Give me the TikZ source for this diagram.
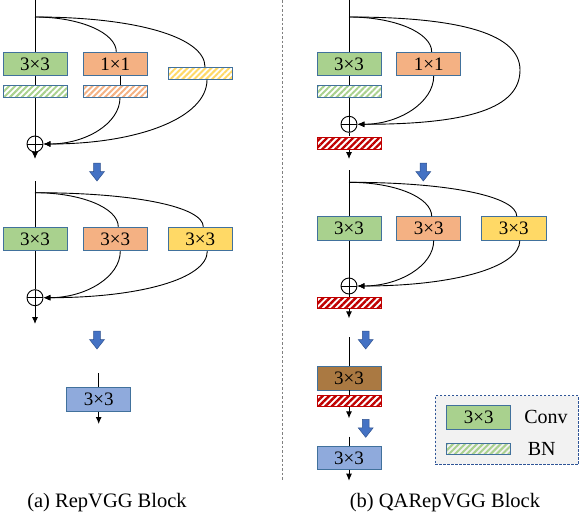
\documentclass[tikz,border=0pt]{standalone}
\usepackage{fontspec}
\setmainfont{Liberation Serif}
\usetikzlibrary{arrows.meta,patterns.meta}
\definecolor{cborder}{HTML}{41719C}
\definecolor{cgreen}{HTML}{A9D18E}
\definecolor{corange}{HTML}{F4B183}
\definecolor{cyellow}{HTML}{FFD966}
\definecolor{cblue}{HTML}{8FAADC}
\definecolor{cbrown}{HTML}{AA7942}
\definecolor{cred}{HTML}{C00000}
\definecolor{carrow}{HTML}{4472C4}
\definecolor{carrowb}{HTML}{2F528F}
\definecolor{clegfill}{HTML}{F2F2F2}
\definecolor{clegdraw}{HTML}{2F5597}
\begin{document}
\begin{tikzpicture}[x=1pt,y=-1pt,
  conv/.style={draw=cborder, line width=0.8pt, minimum width=64pt, minimum height=23.5pt, inner sep=0pt, font=\fontsize{19}{19}\selectfont},
  bnbox/.style={draw=cborder, line width=0.8pt, minimum width=64pt, minimum height=11.5pt, inner sep=0pt, pattern={Lines[angle=45,distance=4.2pt,line width=2pt]}},
  redbn/.style={bnbox, draw=cred, pattern={Lines[angle=45,distance=4.6pt,line width=2.4pt]}, pattern color=cred},
  plusnode/.style={circle, draw, line width=0.9pt, minimum size=16pt, inner sep=0pt,
    path picture={\draw[line width=0.9pt] (path picture bounding box.north) -- (path picture bounding box.south) (path picture bounding box.west) -- (path picture bounding box.east);}},
  ln/.style={line width=0.9pt},
  arr/.style={ln, -{Latex[length=7pt,width=6pt]}},
  barrow/.pic={\draw[fill=carrow, draw=carrowb, line width=0.5pt] (-3.3,0) -- (3.3,0) -- (3.3,8.5) -- (7.5,8.5) -- (0,18) -- (-7.5,8.5) -- (-3.3,8.5) -- cycle;},
  captext/.style={font=\fontsize{20.5}{20.5}\selectfont, inner sep=0pt},
  legtext/.style={font=\fontsize{20}{20}\selectfont, inner sep=0pt}
]
\fill[white] (0,0) rectangle (581,517);
\useasboundingbox (0,0) rectangle (581,517);

% separator
\coordinate (s1) at (282,0);
\coordinate (s2) at (282,480);
\draw[gray, line width=0.6pt, dash pattern=on 2.5pt off 2pt] (s1) -- (s2);

% ===== Left, row 1 =====
\coordinate (t1) at (35,0);
\coordinate (b1) at (35,17);
\node[conv, fill=cgreen] (g1) at (35,64) {3×3};
\node[bnbox, pattern color=cgreen] (gb1) at (35,91.5) {};
\node[conv, fill=corange] (o1) at (115.3,64) {1×1};
\node[bnbox, pattern color=corange] (ob1) at (115.3,91.5) {};
\node[bnbox, pattern color=cyellow, minimum height=12pt] (yb1) at (200.3,73.3) {};
\node[plusnode] (p1) at (35,144) {};
\coordinate (e1) at (35,159);
\draw[ln] (t1) -- (g1.north) (g1.south) -- (gb1.north) (gb1.south) -- (p1.north);
\draw[arr] (p1.south) -- (e1);
\draw[ln] ([xshift=4.7pt]o1.south) -- ([xshift=4.7pt]ob1.north);
\draw[ln] (b1) .. controls +(45,0) and +(0,-19) .. ([xshift=1pt]o1.north);
\draw[ln] (b1) .. controls +(100,0) and +(0,-30) .. ([xshift=4.7pt]yb1.north);
\draw[arr] ([xshift=4.7pt]ob1.south) .. controls +(0,26) and +(42,0) .. (p1.east);
\draw[arr] ([xshift=6.7pt]yb1.south) .. controls +(0,38) and +(95,0) .. (p1.east);
\pic at (97,163) {barrow};

% ===== Left, row 2 =====
\coordinate (t2) at (35,181);
\coordinate (b2) at (35,192.7);
\node[conv, fill=cgreen] (g2) at (35,239) {3×3};
\node[conv, fill=corange] (o2) at (115.3,239) {3×3};
\node[conv, fill=cyellow] (y2) at (200.3,239) {3×3};
\node[plusnode] (p2) at (35,297.7) {};
\coordinate (e2) at (35,324);
\draw[ln] (t2) -- (g2.north) (g2.south) -- (p2.north);
\draw[arr] (p2.south) -- (e2);
\draw[ln] (b2) .. controls +(46,0) and +(0,-19) .. ([xshift=3pt]o2.north);
\draw[ln] (b2) .. controls +(100,0) and +(0,-20) .. ([xshift=3pt]y2.north);
\draw[arr] ([xshift=5pt]o2.south) .. controls +(0,26) and +(42,0) .. (p2.east);
\draw[arr] ([xshift=7pt]y2.south) .. controls +(0,28) and +(95,0) .. (p2.east);
\pic at (97,331) {barrow};

% ===== Left, row 3 =====
\coordinate (t3) at (98.7,373);
\node[conv, fill=cblue, minimum height=24pt] (bl3) at (98.7,399.3) {3×3};
\coordinate (e3) at (98.7,424);
\draw[ln] (t3) -- (bl3.north);
\draw[arr] (bl3.south) -- (e3);

\node[captext] (capa) at (107,503) {(a) RepVGG Block};

% ===== Right, row 1 =====
\coordinate (rt1) at (349,0);
\coordinate (rb1) at (349,17);
\node[conv, fill=cgreen] (rg1) at (349,64) {3×3};
\node[bnbox, pattern color=cgreen] (rgb1) at (349,91.5) {};
\node[conv, fill=corange] (ro1) at (428.7,64) {1×1};
\coordinate (rf) at (520,70);
\node[plusnode] (rp1) at (349,124.3) {};
\node[redbn] (rr1) at (349,143.2) {};
\coordinate (re1) at (349,159);
\draw[ln] (rt1) -- (rg1.north) (rg1.south) -- (rgb1.north) (rgb1.south) -- (rp1.north) (rp1.south) -- (rr1.north);
\draw[arr] (rr1.south) -- (re1);
\draw[ln] (rb1) .. controls +(46,0) and +(0,-19) .. ([xshift=3pt]ro1.north);
\draw[arr] (rb1) .. controls +(115,0) and +(0,-35) .. (rf) .. controls +(0,38) and +(112,0) .. (rp1.east);
\draw[arr] ([xshift=5pt]ro1.south) .. controls +(0,26) and +(42,0) .. (rp1.east);
\pic at (423.3,163) {barrow};

% ===== Right, row 2 =====
\coordinate (rt2) at (349,170);
\coordinate (rb2) at (349,182.3);
\node[conv, fill=cgreen] (rg2) at (349,228.5) {3×3};
\node[conv, fill=corange] (ro2) at (428.7,228.5) {3×3};
\node[conv, fill=cyellow, minimum width=64.3pt] (ry2) at (513.8,228.5) {3×3};
\node[plusnode] (rp2) at (349,286) {};
\node[redbn] (rr2) at (349,302.8) {};
\coordinate (re2) at (349,318.3);
\draw[ln] (rt2) -- (rg2.north) (rg2.south) -- (rp2.north) (rp2.south) -- (rr2.north);
\draw[arr] (rr2.south) -- (re2);
\draw[ln] (rb2) .. controls +(46,0) and +(0,-19) .. ([xshift=3pt]ro2.north);
\draw[ln] (rb2) .. controls +(100,0) and +(0,-20) .. ([xshift=3pt]ry2.north);
\draw[arr] ([xshift=5pt]ro2.south) .. controls +(0,25) and +(42,0) .. (rp2.east);
\draw[arr] ([xshift=6pt]ry2.south) .. controls +(0,27) and +(95,0) .. (rp2.east);
\pic at (365.7,331) {barrow};

% ===== Right, row 3 =====
\coordinate (rt3) at (349,337.3);
\node[conv, fill=cbrown, minimum height=24pt] (rbr) at (349,378) {3×3};
\node[redbn] (rr3) at (349,400.8) {};
\coordinate (re3) at (349,418.3);
\draw[ln] (rt3) -- (rbr.north) (rbr.south) -- (rr3.north);
\draw[arr] (rr3.south) -- (re3);
\pic at (365.7,419.3) {barrow};
\coordinate (rt4) at (349,436.7);
\node[conv, fill=cblue, minimum height=22.6pt] (rbl) at (349,458) {3×3};
\coordinate (re4) at (349,480.7);
\draw[ln] (rt4) -- (rbl.north);
\draw[arr] (rbl.south) -- (re4);

% ===== Legend =====
\node[draw=clegdraw, fill=clegfill, line width=0.7pt, dash pattern=on 2.5pt off 1.5pt, minimum width=143.3pt, minimum height=68.6pt, inner sep=0pt] (leg) at (506.7,430) {};
\node[conv, fill=cgreen] (lg) at (478.7,417.3) {3×3};
\node[bnbox, pattern color=cgreen] (lbn) at (478.7,448.8) {};
\node[legtext] (lconv) at (546,417) {Conv};
\node[legtext] (lbntext) at (541.7,449) {BN};

\node[captext] (capb) at (445,503) {(b) QARepVGG Block};
\end{tikzpicture}
\end{document}
